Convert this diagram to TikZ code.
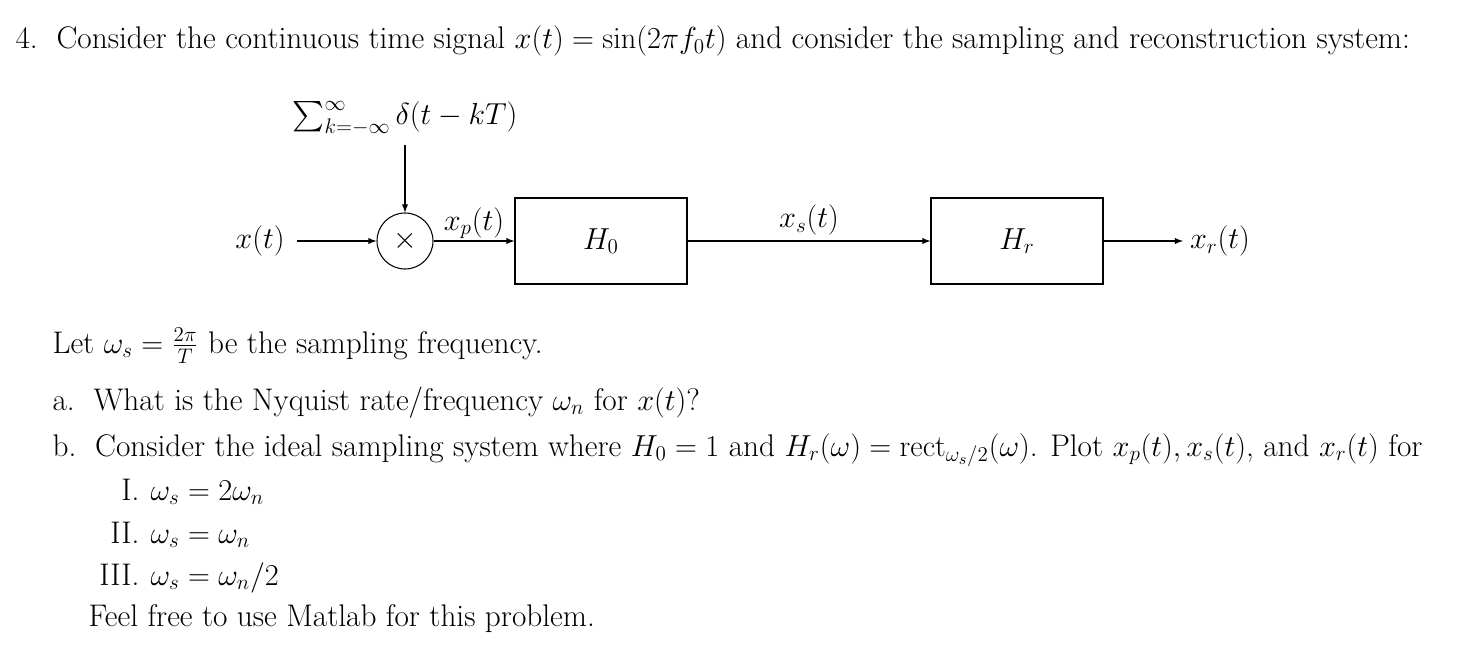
\documentclass[tikz,border=0pt]{standalone}
\usepackage{amsmath}
\begin{document}
\begin{tikzpicture}[x=0.02cm,y=-0.02cm,>=latex,
  txt/.style={anchor=base west,inner sep=0pt,font=\fontsize{17.8}{21}\selectfont},
  lbl/.style={inner sep=0pt,font=\fontsize{17.8}{21}\selectfont},
  blk/.style={draw,minimum width=172*0.02cm,minimum height=86*0.02cm,inner sep=0pt,font=\fontsize{17.8}{21}\selectfont},
  line width=0.6pt]
\useasboundingbox (0,0) rectangle (1463,652);
\node[txt] (l1) at (15,49) {4.\ \ Consider the continuous time signal $x(t)=\sin(2\pi f_0 t)$ and consider the sampling and reconstruction system:};
\node[lbl] (sum) at (405,118) {$\sum_{k=-\infty}^{\infty}\delta(t-kT)$};
\node[draw,circle,minimum size=56*0.02cm,inner sep=0pt,lbl] (m) at (405,241) {$\times$};
\node[lbl] (x) at (260,241) {$x(t)$};
\node[blk] (h0) at (601,241) {$H_0$};
\node[blk] (hr) at (1017,241) {$H_r$};
\node[lbl] (xr) at (1220,241) {$x_r(t)$};
\coordinate (st) at (405,145);
\coordinate (xs) at (297,241);
\coordinate (xe) at (1183,241);
\draw[->] (st) -- (m);
\draw[->] (xs) -- (m);
\draw[->] (m) -- node[above=1pt,lbl]{$x_p(t)$} (h0);
\draw[->] (h0) -- node[above=3pt,lbl]{$x_s(t)$} (hr);
\draw[->] (hr) -- (xe);
\node[txt] (let) at (52,353) {Let $\omega_s=\frac{2\pi}{T}$ be the sampling frequency.};
\node[txt] (a) at (52,410) {a.\ \ What is the Nyquist rate/frequency $\omega_n$ for $x(t)$?};
\node[txt] (b) at (52,456) {b.\ \ Consider the ideal sampling system where $H_0=1$ and $H_r(\omega)=\mathrm{rect}_{\omega_s/2}(\omega)$. Plot $x_p(t),x_s(t)$, and $x_r(t)$ for};
\node[txt,anchor=base east] (i1) at (140,500) {I.};
\node[txt] (e1) at (150,500) {$\omega_s=2\omega_n$};
\node[txt,anchor=base east] (i2) at (140,543) {II.};
\node[txt] (e2) at (150,543) {$\omega_s=\omega_n$};
\node[txt,anchor=base east] (i3) at (140,585) {III.};
\node[txt] (e3) at (150,585) {$\omega_s=\omega_n/2$};
\node[txt] (f) at (88,626) {Feel free to use Matlab for this problem.};
\end{tikzpicture}
\end{document}
